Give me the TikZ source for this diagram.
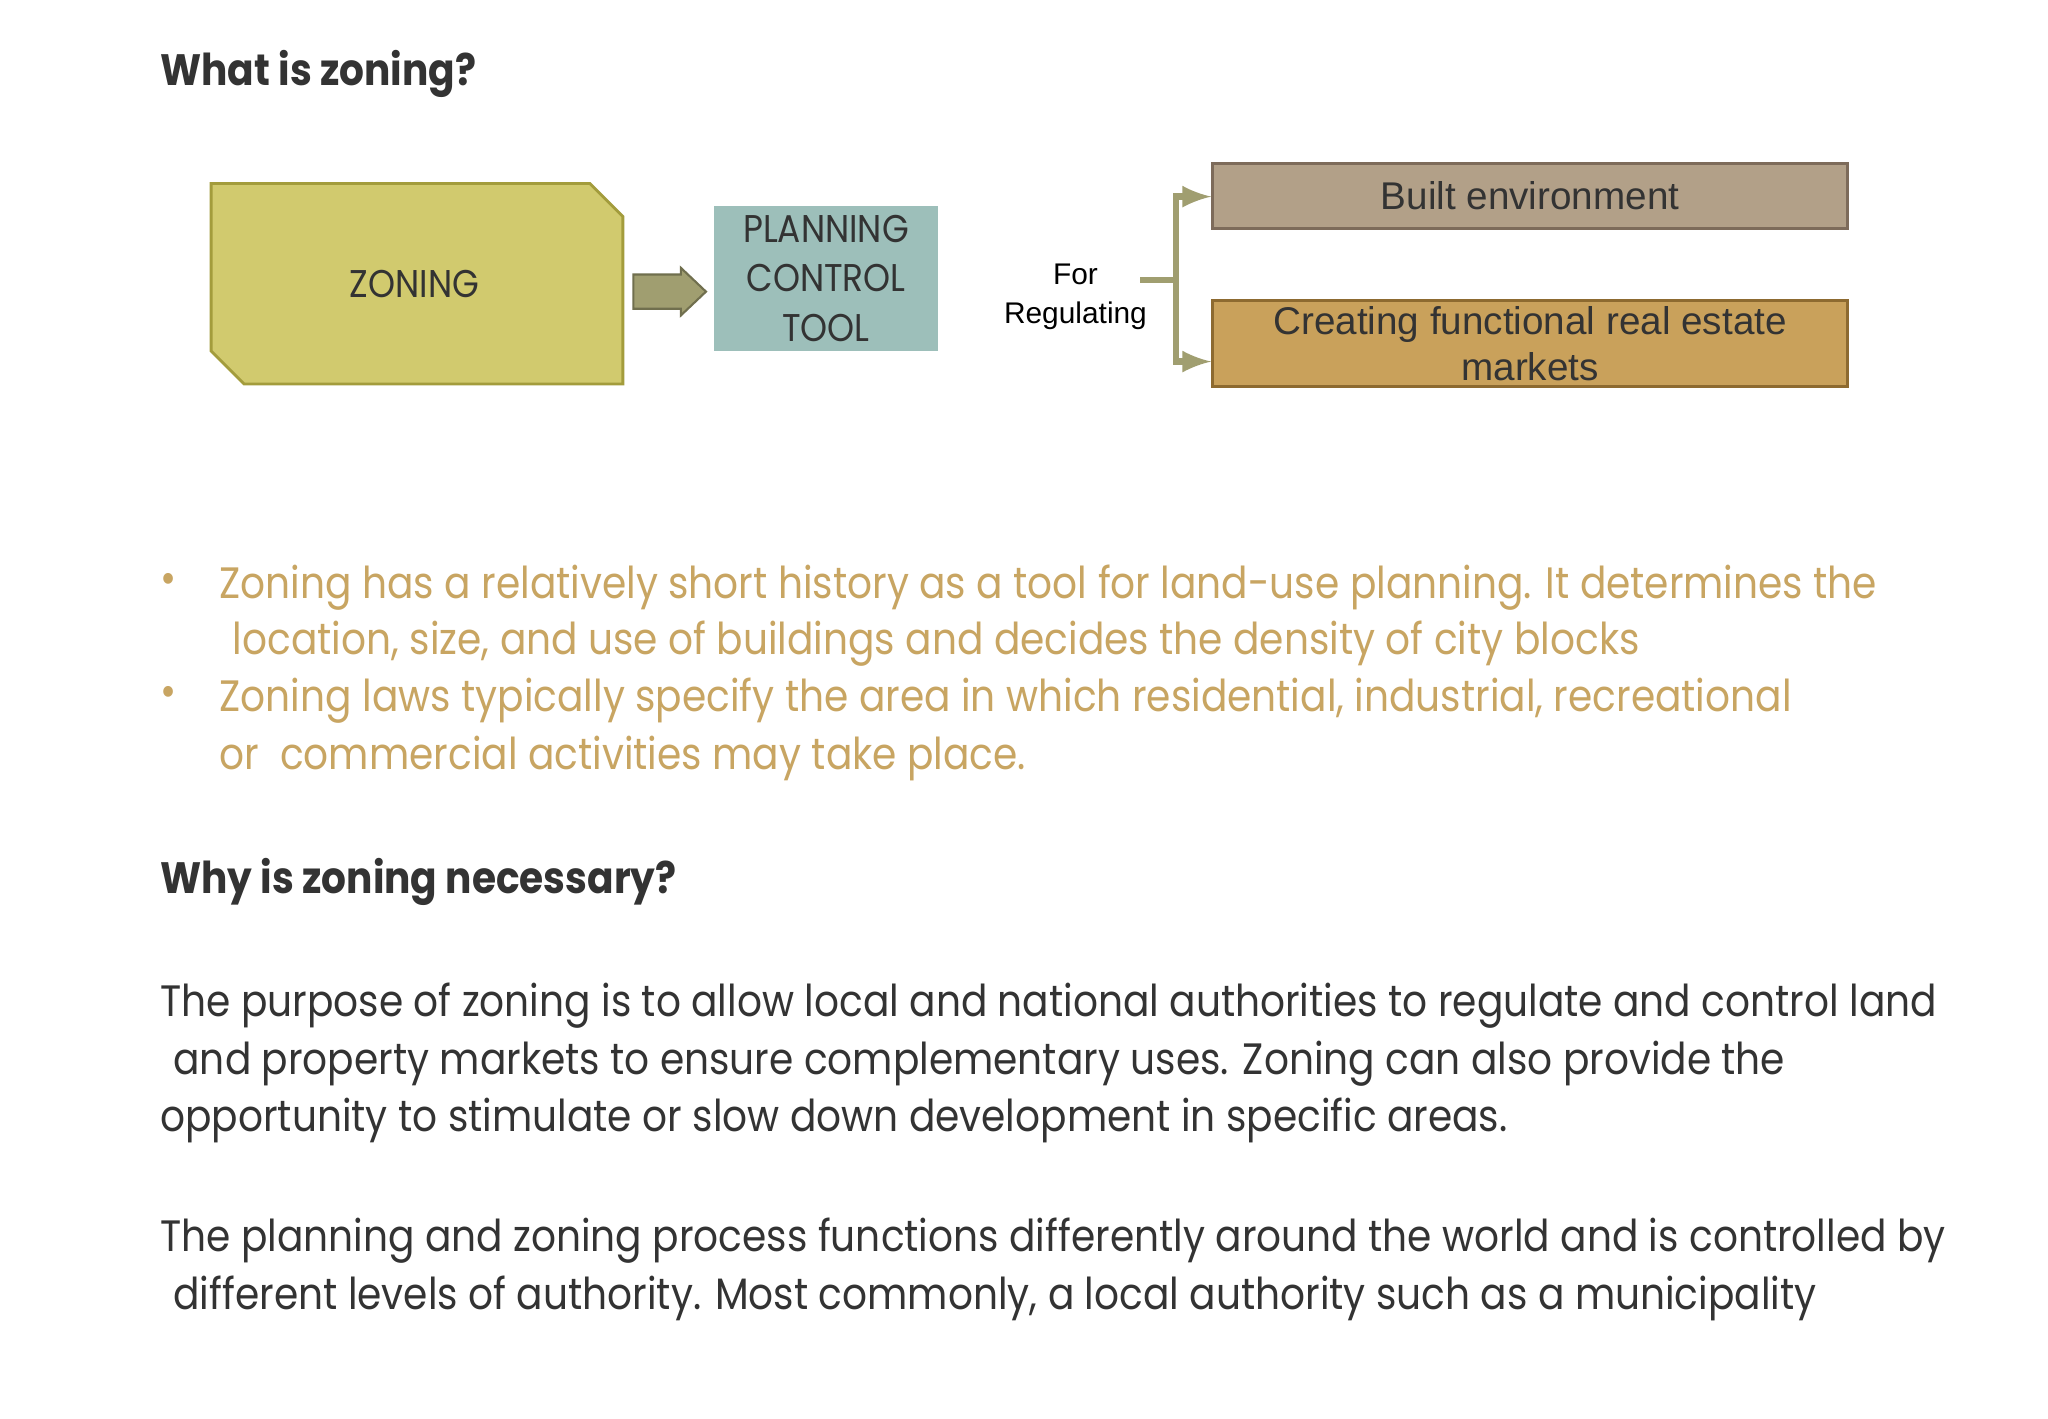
\documentclass[tikz,border=0pt]{standalone}
\usepackage{fontspec}
\setmainfont{Poppins}[FakeStretch=0.89]
\newfontfamily\arialf{Liberation Sans}
\definecolor{zfill}{HTML}{D1CA6E}
\definecolor{zdraw}{HTML}{A39C3C}
\definecolor{arrowc}{HTML}{A09E70}
\definecolor{pfill}{HTML}{9DBFBA}
\definecolor{bfill}{HTML}{B2A088}
\definecolor{bdraw}{HTML}{7D6B5A}
\definecolor{cfill}{HTML}{C9A15B}
\definecolor{cdraw}{HTML}{8D6A30}
\definecolor{tan}{HTML}{C8A562}
\definecolor{dark}{HTML}{333333}
\begin{document}
\begin{tikzpicture}[x=0.0132cm,y=-0.0132cm,
  body/.style={anchor=west,inner sep=0,font=\fontsize{12.5}{15}\selectfont,text=dark},
  bul/.style={anchor=west,inner sep=0,font=\fontsize{12.5}{15}\selectfont,text=tan},
  head/.style={anchor=west,inner sep=0,font=\fontsize{12.5}{15}\selectfont\bfseries,text=dark}]
\path[use as bounding box,fill=white] (0,0) rectangle (1552,1075);
\node[head] (h1) at (121,56) {What is zoning?};
\draw[zdraw,fill=zfill,line width=0.8pt] (160,139) -- (447,139) -- (472,164) -- (472,291) -- (185,291) -- (160,266) -- cycle;
\node[font=\fontsize{11}{13}\selectfont,text=dark] (zon) at (314,215) {ZONING};
\draw[arrowc!70!black,fill=arrowc,line width=0.6pt] (480,208) -- (516,208) -- (516,203) -- (535,221) -- (516,239) -- (516,234) -- (480,234) -- cycle;
\node[fill=pfill,minimum width=170*0.0132cm,minimum height=110*0.0132cm,inner sep=0,align=center,font=\fontsize{11}{14}\selectfont,text=dark] (pct) at (626,211) {PLANNING\\CONTROL\\TOOL};
\node[align=center,font=\arialf\fontsize{8.5}{11}\selectfont,text=black] (reg) at (815,225) {For\\Regulating};
\node[draw=bdraw,fill=bfill,line width=0.8pt,minimum width=481*0.0132cm,minimum height=49*0.0132cm,inner sep=0,font=\arialf\fontsize{11}{13}\selectfont,text=dark] (be) at (1159.5,148.5) {\raisebox{-6pt}{Built environment}};
\node[draw=cdraw,fill=cfill,line width=0.8pt,minimum width=481*0.0132cm,minimum height=65*0.0132cm,inner sep=0,align=center,font=\arialf\fontsize{11}{13}\selectfont,text=dark] (cf) at (1159.5,260.5) {Creating functional real estate\\markets};
\coordinate (br) at (891,212);
\draw[arrowc,line width=1.8pt] (864,212) -- (br);
\draw[arrowc,line width=1.8pt,-latex] (891,149) -| (br) |- (be.west |- 0,274);
\draw[arrowc,line width=1.8pt,-latex] (br) |- (be.west |- 0,149);
\node[bul] (b1) at (121,442) {•};
\node[bul] (t1) at (166,445) {Zoning has a relatively short history as a tool for land-use planning. It determines the};
\node[bul] (t1b) at (176,488) {location, size, and use of buildings and decides the density of city blocks};
\node[bul] (b2) at (121,528) {•};
\node[bul] (t2) at (166,531) {Zoning laws typically specify the area in which residential, industrial, recreational};
\node[bul] (t2b) at (166,575) {or\ \ commercial activities may take place.};
\node[head] (h2) at (121,668) {Why is zoning necessary?};
\node[body] (p1) at (121,762) {The purpose of zoning is to allow local and national authorities to regulate and control land};
\node[body] (p2) at (131,806) {and property markets to ensure complementary uses. Zoning can also provide the};
\node[body] (p3) at (121,849) {opportunity to stimulate or slow down development in specific areas.};
\node[body] (q1) at (121,940) {The planning and zoning process functions differently around the world and is controlled by};
\node[body] (q2) at (131,984) {different levels of authority. Most commonly, a local authority such as a municipality};
\end{tikzpicture}
\end{document}
